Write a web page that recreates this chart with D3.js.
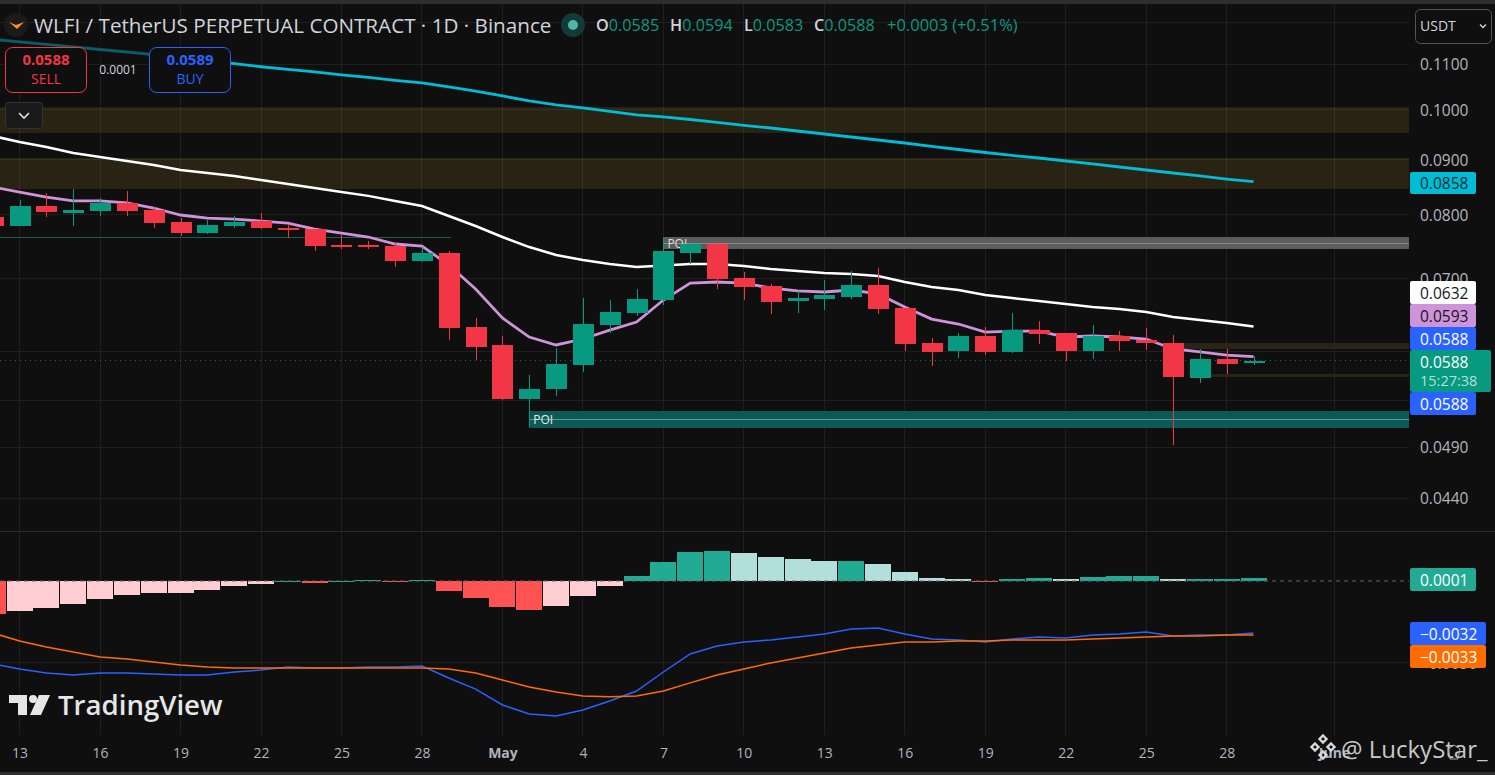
<!DOCTYPE html>
<html><head><meta charset="utf-8">
<script src="https://cdn.jsdelivr.net/npm/d3@7/dist/d3.min.js"></script>
<style>html,body{margin:0;padding:0;background:#0f0f0f;overflow:hidden}svg{display:block}text{font-family:"Open Sans",sans-serif}</style>
</head><body><svg id="c" width="1495" height="775"></svg>
<script>
// ---- data ----
const opens=[.07963,.07813,.08151,.08031,.08065,.08203,.08082,.07879,.07698,.07813,.07895,.07780,.07763,.07506,.07506,.07490,.07257,.07380,.06313,.06078,.05423,.05539,.05827,.06340,.06503,.06683,.07380,.07522,.07000,.06884,.06669,.06697,.06726,.06898,.06572,.06103,.06001,.06194,.05989,.06272,.06233,.06001,.06194,.06142,.06103,.05669,.05900,.05850];
const highs=[.08082,.08255,.08377,.08448,.08288,.08412,.08134,.07946,.07929,.07980,.08031,.07846,.07763,.07666,.07569,.07537,.07474,.07411,.06434,.06194,.05706,.06040,.06712,.06683,.06840,.07634,.07569,.07569,.07090,.06913,.06812,.06971,.07105,.07150,.06572,.06168,.06233,.06313,.06503,.06393,.06233,.06340,.06259,.06300,.06207,.06027,.06027,.05938];
const lows=[.07813,.07813,.07963,.07813,.07980,.07980,.07780,.07650,.07682,.07780,.07763,.07617,.07411,.07443,.07443,.07166,.07242,.06142,.05888,.05411,.05111,.05457,.05742,.06233,.06462,.06614,.07211,.06840,.06683,.06489,.06503,.06544,.06697,.06489,.06001,.05815,.05913,.05950,.05976,.06091,.05876,.05900,.06001,.06014,.04921,.05610,.05718,.05827];
const closes=[.07813,.08151,.08048,.08082,.08203,.08065,.07862,.07698,.07829,.07879,.07780,.07747,.07490,.07490,.07474,.07257,.07380,.06300,.06052,.05423,.05539,.05839,.06353,.06516,.06697,.07411,.07522,.06986,.06869,.06655,.06712,.06755,.06898,.06558,.06091,.05989,.06194,.05989,.06272,.06220,.06001,.06194,.06129,.06103,.05681,.05900,.05839,.05880];
const maWhite=[.09449,.09330,.09232,.09116,.09039,.08963,.08888,.08794,.08739,.08684,.08610,.08538,.08466,.08395,.08327,.08238,.08151,.07980,.07813,.07634,.07474,.07349,.07272,.07211,.07166,.07188,.07211,.07211,.07181,.07135,.07105,.07075,.07060,.07031,.06942,.06869,.06826,.06755,.06712,.06669,.06627,.06586,.06558,.06516,.06448,.06407,.06366,.06320];
const maPurple=[.08484,.08395,.08306,.08238,.08238,.08203,.08116,.07997,.07946,.07929,.07895,.07862,.07763,.07698,.07634,.07522,.07490,.07196,.06840,.06434,.06181,.06078,.06155,.06272,.06380,.06683,.06927,.06942,.06927,.06855,.06812,.06797,.06826,.06769,.06586,.06420,.06353,.06246,.06259,.06259,.06181,.06194,.06181,.06155,.06027,.05989,.05950,.05930];
const maTeal=[.11590,.11525,.11465,.11405,.11342,.11282,.11220,.11152,.11082,.11009,.10936,.10874,.10817,.10749,.10692,.10624,.10568,.10479,.10390,.10282,.10174,.10089,.10025,.09951,.09878,.09836,.09784,.09723,.09661,.09610,.09549,.09489,.09429,.09369,.09310,.09242,.09183,.09125,.09068,.09020,.08963,.08907,.08850,.08794,.08739,.08684,.08628,.08580];
const macdHist=[-.00203,-.00185,-.00166,-.00142,-.00111,-.00086,-.00074,-.00074,-.00055,-.00031,-.00018,.00003,-.00012,.00003,.00006,-.00003,.00006,-.00062,-.00105,-.0016,-.00178,-.00154,-.00092,-.00031,.00031,.00117,.00178,.00185,.00172,.00148,.00135,.00123,.00123,.00105,.00055,.00018,.00012,-.00006,.00012,.00018,.00012,.00025,.00031,.00031,.00012,.00012,.00012,.00018];
const macdLine=[-.00511,-.00541,-.00566,-.00578,-.00566,-.00566,-.00572,-.00578,-.00578,-.00560,-.00548,-.00529,-.00535,-.00535,-.00529,-.00529,-.00523,-.00597,-.00665,-.00763,-.00818,-.00831,-.00794,-.00738,-.00677,-.00560,-.00449,-.00400,-.00375,-.00363,-.00345,-.00326,-.00295,-.00289,-.00326,-.00357,-.00363,-.00375,-.00357,-.00345,-.00351,-.00332,-.00326,-.00314,-.00338,-.00332,-.00332,-.00320];
const signalLine=[-.00320,-.00369,-.00406,-.00437,-.00467,-.00480,-.00498,-.00517,-.00529,-.00535,-.00535,-.00535,-.00535,-.00535,-.00535,-.00535,-.00535,-.00541,-.00566,-.00609,-.00652,-.00683,-.00707,-.00713,-.00707,-.00677,-.00627,-.00578,-.00541,-.00504,-.00474,-.00443,-.00412,-.00394,-.00375,-.00375,-.00369,-.00369,-.00363,-.00363,-.00363,-.00357,-.00351,-.00345,-.00338,-.00338,-.00332,-.00332];
const priceGrid=[.12,.11,.10,.09,.08,.07,.06,.054,.049,.044];
const priceLabels=[.11,.10,.09,.08,.07,.049,.044];
const macdGrid=[-.005];
const timeTickDates=["04-13","04-16","04-19","04-22","04-25","04-28","05-01","05-04","05-07","05-10","05-13","05-16","05-19","05-22","05-25","05-28","06-01"];
const timeTickLabels=["13","16","19","22","25","28","May","4","7","10","13","16","19","22","25","28","June"];
const legendOHLC=[["O","0.0585"],["H","0.0594"],["L","0.0583"],["C","0.0588"]];
const zoneYellow=[[.10044,.09509],[.09020,.08448]];
const zoneSmall=[[.06103,.06027,"05-26"],[.05718,.05681,"05-27"]];
const firstDay=Date.UTC(2026,3,12);

// ---- scales ----
const BG="#0f0f0f",GRID="#1f1f1f",UP="#089981",DN="#f23645",PLOT_R=1409;
const date=s=>new Date(`2026-${s}T00:00:00Z`);
const dayDates=opens.map((_,i)=>d3.utcDay.offset(new Date(firstDay),i));
const x=d3.scaleUtc().domain([date("04-13"),date("06-01")]).range([19.6,1334]);
const y=d3.scaleLog().domain([.11,.044]).range([64,498]);
const m=d3.scaleLinear().domain([0,-.005]).range([581,662.25]);
const svg=d3.select("#c");
svg.append("rect").attr("width",1495).attr("height",775).attr("fill",BG);
svg.append("rect").attr("width",1495).attr("height",4).attr("fill","#2e2e2e");
svg.append("rect").attr("y",772).attr("width",1495).attr("height",3).attr("fill","#2e2e2e");

// grid
const grid=svg.append("g").attr("stroke",GRID).attr("stroke-width",1).attr("shape-rendering","crispEdges");
grid.selectAll(".gv").data(timeTickDates).join("line").attr("x1",d=>x(date(d))).attr("x2",d=>x(date(d))).attr("y1",4).attr("y2",735);
grid.selectAll(".gh").data(priceGrid).join("line").attr("x1",0).attr("x2",PLOT_R).attr("y1",d=>y(d)).attr("y2",d=>y(d));
grid.selectAll(".gm").data(macdGrid).join("line").attr("x1",0).attr("x2",PLOT_R).attr("y1",d=>m(d)).attr("y2",d=>m(d));
svg.append("line").attr("x1",0).attr("x2",1495).attr("y1",531).attr("y2",531).attr("stroke","#2a2a2a").attr("shape-rendering","crispEdges");

// zones
const zones=svg.append("g").attr("shape-rendering","crispEdges");
zones.selectAll(".z").data(zoneYellow).join("rect").attr("x",0).attr("width",PLOT_R).attr("y",d=>y(d[0])).attr("height",d=>y(d[1])-y(d[0])).attr("fill","#c9a227").attr("fill-opacity",.14);
zones.selectAll(".zs").data(zoneSmall).join("rect").attr("x",d=>x(date(d[2]))).attr("width",d=>PLOT_R-x(date(d[2]))).attr("y",d=>y(d[0])).attr("height",d=>y(d[1])-y(d[0])).attr("fill","#2a2418");
zones.append("line").attr("x1",0).attr("x2",x(date("04-28"))+29).attr("y1",y(.07634)).attr("y2",y(.07634)).attr("stroke","#1c5a55");
svg.append("line").attr("x1",0).attr("x2",PLOT_R).attr("y1",y(.05876)).attr("y2",y(.05876)).attr("stroke",UP).attr("stroke-dasharray","1 4").attr("stroke-opacity",.75).attr("shape-rendering","crispEdges");
// POI boxes
function poi(start,hi,lo,fill,mid,tc){
  const g=svg.append("g").attr("shape-rendering","crispEdges");
  g.append("rect").attr("x",x(date(start))).attr("width",PLOT_R-x(date(start))).attr("y",y(hi)).attr("height",y(lo)-y(hi)).attr("fill",fill);
  g.append("line").attr("x1",x(date(start))).attr("x2",PLOT_R).attr("y1",(y(hi)+y(lo))/2).attr("y2",(y(hi)+y(lo))/2).attr("stroke",mid);
  svg.append("text").attr("x",x(date(start))+4).attr("y",(y(hi)+y(lo))/2+4.5).attr("font-size",12).attr("fill",tc).text("POI");
}
poi("05-07",.07634,.07443,"#5c5c5c","#8a8a8a","#dddddd");
poi("05-02",.05287,.05100,"#0b5a58","#5c9c98","#e8e8e8");
// moving averages
const line=(s)=>d3.line().x((_,i)=>x(dayDates[i])).y(d=>s(d));
svg.append("path").datum(maTeal).attr("d",line(y)).attr("fill","none").attr("stroke","#00bcd4").attr("stroke-width",2.8);
svg.append("path").datum(maWhite).attr("d",line(y)).attr("fill","none").attr("stroke","#ffffff").attr("stroke-width",2.5);
svg.append("path").datum(maPurple).attr("d",line(y)).attr("fill","none").attr("stroke","#ce93d8").attr("stroke-width",2.8);
svg.append("rect").attr("x",0).attr("y",32).attr("width",150).attr("height",30).attr("fill",BG).attr("fill-opacity",.55);

// candles
const bw=21;
const cg=svg.append("g").attr("shape-rendering","crispEdges");
opens.forEach((o,i)=>{
  const c=closes[i]>=o?UP:DN,X=Math.round(x(dayDates[i]));
  cg.append("line").attr("x1",X).attr("x2",X).attr("y1",y(highs[i])).attr("y2",y(lows[i])).attr("stroke",c);
  const t=y(Math.max(o,closes[i])),b=y(Math.min(o,closes[i]));
  cg.append("rect").attr("x",X-bw/2).attr("width",bw).attr("y",t).attr("height",Math.max(1.5,b-t)).attr("fill",c);
});

// MACD histogram
const hg=svg.append("g").attr("shape-rendering","crispEdges");
macdHist.forEach((v,i)=>{
  const prev=i?macdHist[i-1]:(v<0?Infinity:-Infinity);
  const col=v<0?(v<prev?"#ff5252":"#ffcdd2"):(v>=prev?"#22ab94":"#b2dfdb");
  hg.append("rect").attr("x",x(dayDates[i])-13).attr("width",26).attr("y",Math.min(m(v),m(0))).attr("height",Math.max(1,Math.abs(m(v)-m(0)))).attr("fill",col);
});
svg.append("line").attr("x1",0).attr("x2",PLOT_R).attr("y1",m(0)).attr("y2",m(0)).attr("stroke","#666").attr("stroke-dasharray","4 4");
svg.append("path").datum(macdLine).attr("d",line(m)).attr("fill","none").attr("stroke","#2962ff").attr("stroke-width",1.5);
svg.append("path").datum(signalLine).attr("d",line(m)).attr("fill","none").attr("stroke","#ff6d00").attr("stroke-width",1.5);

// axes
const axP=d3.axisRight(y).tickValues(priceLabels).tickFormat(d3.format(".4f")).tickSize(0).tickPadding(11);
const gP=svg.append("g").attr("transform",`translate(${PLOT_R},1)`).call(axP);
const axM=d3.axisRight(m).tickValues(macdGrid).tickFormat(d=>d3.format(".4f")(d).replace("-","−")).tickSize(0).tickPadding(11);
const gM=svg.append("g").attr("transform",`translate(${PLOT_R},1)`).call(axM);
const axT=d3.axisBottom(x).tickValues(timeTickDates.map(date)).tickFormat((d,i)=>timeTickLabels[i]).tickSize(0).tickPadding(0);
const gT=svg.append("g").attr("transform","translate(0,748)").call(axT);
[gP,gM,gT].forEach(g=>{g.select(".domain").remove();g.selectAll("text").attr("fill","#b2b5be").attr("font-size",15.5).attr("font-family",'"Open Sans",sans-serif');});
gT.selectAll("text").attr("font-size",14).filter((d,i)=>i==6||i==16).attr("font-weight",700);

// price tags
function tag(X,Y,W,H,bg,fg,t,r){
  svg.append("rect").attr("x",X).attr("y",Y).attr("width",W).attr("height",H).attr("rx",r||2).attr("fill",bg);
  if(t) svg.append("text").attr("x",1420).attr("y",Y+H/2+6).attr("font-size",15.5).attr("fill",fg).text(t);
}
tag(1410,172,66,22,"#00bcd4","#0f2f36",d3.format(".4f")(maTeal[47]));
tag(1410,281,66,23,"#ffffff","#131722",d3.format(".4f")(maWhite[47]));
tag(1410,304,66,23,"#ce93d8","#131722",d3.format(".4f")(maPurple[47]));
tag(1410,327,66,23,"#2962ff","#ffffff","0.0588");
tag(1410,392,66,23,"#2962ff","#ffffff","0.0588");
tag(1410,350,81,42,UP,"#ffffff","");
svg.append("text").attr("x",1420).attr("y",368).attr("font-size",15.5).attr("fill","#fff").text(d3.format(".4f")(closes[47]));
svg.append("text").attr("x",1420).attr("y",386).attr("font-size",14.5).attr("fill","#b6e0d8").text("15:27:38");
tag(1410,568,66,23,"#22ab94","#ffffff",d3.format(".4f")(macdHist[47]-.00008));
tag(1410,622,76,23,"#2962ff","#ffffff","−"+d3.format(".4f")(-macdLine[47]));
tag(1410,645,76,23,"#ff6d00","#ffffff","−"+d3.format(".4f")(-signalLine[47]));

// legend
svg.append("circle").attr("cx",16).attr("cy",25).attr("r",12).attr("fill","#1b1b1b");
svg.append("path").attr("d","M9 22 L16 25 L24 22 L17 29 Z").attr("fill","#f7931a");
svg.append("text").attr("x",34).attr("y",33).attr("font-size",20.65).attr("fill","#d1d4dc").text("WLFI / TetherUS PERPETUAL CONTRACT · 1D · Binance");
svg.append("circle").attr("cx",573).attr("cy",25).attr("r",12).attr("fill","#123a38");
svg.append("circle").attr("cx",573).attr("cy",25).attr("r",5).attr("fill","#4db6a4");
const lx=[596,670,744,814];
legendOHLC.forEach((d,i)=>{
  const t=svg.append("text").attr("x",lx[i]).attr("y",31).attr("font-size",16.2).attr("fill",UP);
  t.append("tspan").attr("fill","#d1d4dc").attr("font-weight",600).text(d[0]);t.append("tspan").text(d[1]);
});
svg.append("text").attr("x",887).attr("y",31).attr("font-size",16.5).attr("fill",UP).text("+0.0003 (+0.51%)");

// buy / sell
function box(X,c,price,lab){
  svg.append("rect").attr("x",X+.5).attr("y",47.5).attr("width",81).attr("height",45).attr("rx",7).attr("fill",BG).attr("stroke",c);
  svg.append("text").attr("x",X+41).attr("y",65).attr("text-anchor","middle").attr("font-size",15).attr("font-weight",700).attr("fill",c).text(price);
  svg.append("text").attr("x",X+41).attr("y",84).attr("text-anchor","middle").attr("font-size",14).attr("fill",c).text(lab);
}
box(5,DN,"0.0588","SELL");box(149,"#2962ff","0.0589","BUY");
svg.append("text").attr("x",118).attr("y",74).attr("text-anchor","middle").attr("font-size",12).attr("fill","#d1d4dc").text("0.0001");
svg.append("rect").attr("x",5.5).attr("y",102.5).attr("width",37).attr("height",26).attr("rx",3).attr("fill","#1a1a1a").attr("stroke","#333");
svg.append("path").attr("d","M19 113 L24 118 L29 113").attr("fill","none").attr("stroke","#e0e0e0").attr("stroke-width",1.6);
svg.append("rect").attr("x",1415.5).attr("y",9.5).attr("width",76).attr("height",34).attr("rx",5).attr("fill",BG).attr("stroke","#555");
svg.append("text").attr("x",1420).attr("y",31).attr("font-size",14).attr("fill","#d1d4dc").text("USDT");
svg.append("path").attr("d","M1480 24.5 L1483 27.5 L1486 24.5").attr("fill","none").attr("stroke","#d1d4dc").attr("stroke-width",1.3);

// TradingView mark
svg.append("path").attr("d","M9 695 H27 V715 H18 V703 H9 Z M39 695 H50 L41 715 H30 Z").attr("fill","#e6e6e6");
svg.append("circle").attr("cx",33).attr("cy",699).attr("r",4).attr("fill","#e6e6e6");
svg.append("text").attr("x",58).attr("y",715).attr("font-size",27.6).attr("font-weight",600).attr("fill","#e6e6e6").text("TradingView");

// watermark
const wm=svg.append("g").attr("fill","none").attr("stroke","#d8d8d8").attr("stroke-width",2.4);
[[1323,739],[1315,747],[1331,747],[1323,755]].forEach(c=>wm.append("path").attr("d",`M${c[0]} ${c[1]-3.5} l3.5 3.5 l-3.5 3.5 l-3.5 -3.5 Z`));
svg.append("text").attr("x",1341).attr("y",758).attr("font-size",24).attr("fill","#c8c8c8").text("@ LuckyStar_");
svg.append("path").attr("d","M1448 749 L1454 745 L1460 749 L1458 759 L1450 759 Z").attr("fill","none").attr("stroke","#aaa");
</script></body></html>
